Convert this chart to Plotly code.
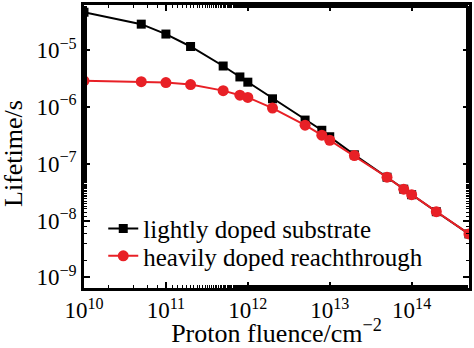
import plotly.graph_objects as go

fluence = [1e10, 5e10, 1e11, 2e11, 5e11, 8e11, 1e12, 2e12, 5e12, 8e12,
           1e13, 2e13, 5e13, 8e13, 1e14, 2e14, 5e14]
lightly = [4.7e-5, 2.9e-5, 1.94e-5, 1.17e-5, 5.3e-6, 3.4e-6, 2.75e-6, 1.4e-6,
           5.9e-7, 3.9e-7, 3.0e-7, 1.44e-7, 5.8e-8, 3.57e-8, 2.85e-8, 1.43e-8, 5.8e-9]
heavily = [2.9e-6, 2.8e-6, 2.7e-6, 2.5e-6, 1.95e-6, 1.62e-6, 1.48e-6, 9.6e-7,
           4.8e-7, 3.2e-7, 2.6e-7, 1.4e-7, 5.8e-8, 3.57e-8, 2.85e-8, 1.43e-8, 5.8e-9]
names = ["lightly doped substrate", "heavily doped reachthrough"]

x_tickvals = [1e10, 1e11, 1e12, 1e13, 1e14]
x_ticktext = ["10<sup>10</sup>", "10<sup>11</sup>", "10<sup>12</sup>", "10<sup>13</sup>", "10<sup>14</sup>"]
y_tickvals = [1e-9, 1e-8, 1e-7, 1e-6, 1e-5]
y_ticktext = ["10<sup>−9</sup>", "10<sup>−8</sup>", "10<sup>−7</sup>", "10<sup>−6</sup>", "10<sup>−5</sup>"]

FONT = "Liberation Serif"
RED = "rgb(232,32,38)"

fig = go.Figure()
fig.add_trace(go.Scatter(x=fluence, y=lightly, name=names[0], mode="lines+markers",
                         line=dict(color="black", width=2),
                         marker=dict(symbol="square", size=9, color="black"),
                         legend="legend", showlegend=True))
fig.add_trace(go.Scatter(x=fluence, y=heavily, name=names[1], mode="lines+markers",
                         line=dict(color=RED, width=2),
                         marker=dict(symbol="circle", size=11, color=RED),
                         legend="legend2", showlegend=True))

axis_common = dict(showline=True, linecolor="black", linewidth=2.5, mirror="ticks",
                   ticks="inside", ticklen=6, tickwidth=1.5, tickcolor="black",
                   showgrid=False, zeroline=False,
                   minor=dict(ticks="inside", ticklen=3, tickwidth=1, tickcolor="black", showgrid=False),
                   tickfont=dict(family=FONT, size=23, color="black"))

fig.update_xaxes(type="log", range=[10, 14.7], tickvals=x_tickvals, ticktext=x_ticktext,
                 title=dict(text="Proton fluence/cm<sup>−2</sup>", font=dict(family=FONT, size=26, color="black"), standoff=2),
                 **axis_common)
fig.update_yaxes(type="log", range=[-9.19, -4.2], tickvals=y_tickvals, ticktext=y_ticktext,
                 **axis_common)

fig.add_annotation(text="Lifetime/s", xref="paper", yref="paper", x=-0.183, y=0.4755,
                   xanchor="center", yanchor="middle", textangle=-90, showarrow=False,
                   font=dict(family=FONT, size=26, color="black"))

leg_common = dict(x=0.05, xanchor="left", yanchor="middle", bgcolor="rgba(0,0,0,0)",
                  font=dict(family=FONT, size=25, color="black"), itemwidth=30)
fig.update_layout(width=474, height=348, margin=dict(l=84, r=3, t=2, b=60),
                  plot_bgcolor="white", paper_bgcolor="white", showlegend=True,
                  font=dict(family=FONT, size=24, color="black"),
                  legend=dict(y=0.209, **leg_common),
                  legend2=dict(y=0.113, **leg_common))

fig.write_html("out.html")
